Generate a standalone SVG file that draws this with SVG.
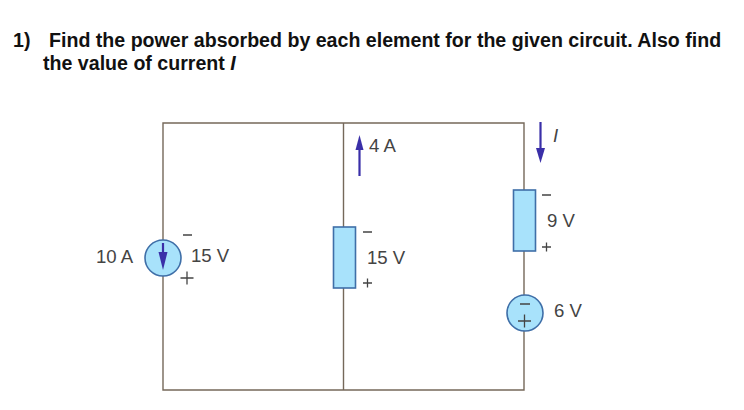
<svg xmlns="http://www.w3.org/2000/svg" width="744" height="410" viewBox="0 0 744 410">
<style>
.h{font-family:"Liberation Sans",Arial,sans-serif;font-size:19.6px;font-weight:bold;fill:#111}
.l{font-family:"Liberation Sans",Arial,sans-serif;font-size:18.6px;fill:#444}
.w{fill:none;stroke:#75685a;stroke-width:1.4}
.e{fill:#a8e2fb;stroke:#3f6fa8;stroke-width:1.6}
.a{stroke:#3a2fa8;stroke-width:2.2;fill:none}
.t{fill:#3a2fa8}
.s{stroke:#444;stroke-width:1.3;fill:none}
</style>
<rect width="744" height="410" fill="#fff"/>
<text class="h" x="13" y="47">1)</text>
<text class="h" x="49" y="47">Find the power absorbed by each element for the given circuit. Also find</text>
<text class="h" x="43" y="70">the value of current <tspan font-style="italic">I</tspan></text>
<g id="connectors">
<path class="w" d="M163 123H524V390H163Z"/>
<path class="w" d="M343.500 123V390"/>
</g>
<g id="source-10A">
<circle class="e" cx="163" cy="258" r="18"/>
<path class="a" d="M163 243V262"/>
<path class="t" d="M158.500 252H167.500L163 270Z"/>
<text class="l" x="96" y="263">10 A</text>
<text class="l" x="191" y="262">15 V</text>
<path class="s" d="M183 235H192M180.500 278H193.500M187 271.500V284.500"/>
</g>
<g id="element-middle">
<rect class="e" x="333.500" y="227" width="22" height="61"/>
<text class="l" x="367" y="264">15 V</text>
<path class="s" d="M363 232H372M363 283H372M367.500 278.500V287.500"/>
<path class="a" d="M359.500 176V145"/>
<path class="t" d="M355.500 150H363.500L359.500 135Z"/>
<text class="l" x="369" y="152">4 A</text>
</g>
<g id="element-right">
<rect class="e" x="513.500" y="190" width="22" height="61"/>
<text class="l" x="547" y="227">9 V</text>
<path class="s" d="M542 195H551M542 247H551M546.500 242.500V251.500"/>
<path class="a" d="M540.500 122V152"/>
<path class="t" d="M536 148H545L540.500 163Z"/>
<text class="l" x="553" y="142" font-style="italic">I</text>
</g>
<g id="source-6V">
<circle class="e" cx="525" cy="313" r="18"/>
<path class="s" d="M520 304H530M518 321H531M524.500 314.500V327.500"/>
<text class="l" x="554" y="317">6 V</text>
</g>
</svg>
